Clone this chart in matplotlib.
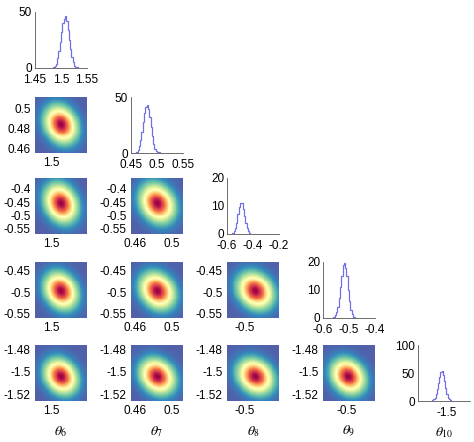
import matplotlib as mpl
mpl.use('Agg')
import matplotlib.pyplot as plt
import numpy as np

plt.rcParams['font.family'] = ['Liberation Sans', 'DejaVu Sans']
plt.rcParams['font.size'] = 8.5
plt.rcParams['mathtext.fontset'] = 'stix'

names = [r'$\theta_6$', r'$\theta_7$', r'$\theta_8$', r'$\theta_9$', r'$\theta_{10}$']

# posterior summaries
means = [1.510, 0.484, -0.455, -0.497, -1.504]
sds = [0.0088, 0.0095, 0.036, 0.021, 0.0078]
rho = -0.2

# histogram: first edge, bin width, density values
h_start = [1.485, 0.460, -0.560, -0.560, -1.530]
h_width = [0.0025, 0.0025, 0.010, 0.005, 0.0025]
h_vals = [
    [1, 2, 4, 9, 15, 23, 32, 40, 44, 46, 42, 34, 25, 17, 10, 5, 2, 1, 0.5],
    [1, 3, 6, 12, 19, 28, 36, 41, 43, 39, 32, 23, 15, 8, 4, 2, 1, 0.5],
    [0.3, 1, 2, 4, 7, 9.5, 11, 11, 9, 6.5, 4, 2, 1, 0.4],
    [0.4, 1, 2, 4, 7, 11, 15, 19, 19.5, 18, 15, 10, 6, 3, 1.5, 0.5, 0.2],
    [1, 3, 6, 12, 21, 32, 43, 51, 53, 46, 35, 23, 13, 6, 3, 1],
]
h_xlim = [(1.45, 1.55), (0.45, 0.55), (-0.6, -0.2), (-0.6, -0.4), (-1.56, -1.45)]
h_xticks = [[1.45, 1.5, 1.55], [0.45, 0.5, 0.55], [-0.6, -0.4, -0.2], [-0.6, -0.5, -0.4], [-1.5]]
h_ylim = [50, 50, 20, 20, 100]
h_yticks = [[0, 50], [0, 50], [0, 10, 20], [0, 10, 20], [0, 50, 100]]

# ranges of the 2-d panels and their ticks
p_lim = [(1.482, 1.538), (0.455, 0.512), (-0.57, -0.36), (-0.56, -0.43), (-1.526, -1.476)]
p_ticks = [[1.5], [0.46, 0.5], [-0.5], [-0.5], [-1.52, -1.5, -1.48]]
p_ytick = [[1.5], [0.46, 0.48, 0.5], [-0.55, -0.5, -0.45, -0.4], [-0.55, -0.5, -0.45], [-1.52, -1.5, -1.48]]

lefts = [35, 131, 227, 323, 418]
tops = [12, 97, 178, 262, 345]
W, H = 52, 56
FW, FH = 474, 442

fig = plt.figure(figsize=(FW / 100, FH / 100), dpi=100)

def add(col, row):
    return fig.add_axes([lefts[col] / FW, 1 - (tops[row] + H) / FH, W / FW, H / FH])

for i in range(5):
    ax = add(i, i)
    edges = h_start[i] + h_width[i] * np.arange(len(h_vals[i]) + 1)
    ax.stairs(h_vals[i], edges, color='#7070e0', lw=0.9)
    ax.set_xlim(h_xlim[i])
    ax.set_ylim(0, h_ylim[i])
    ax.set_xticks(h_xticks[i])
    ax.set_xticklabels([f'{t:g}' for t in h_xticks[i]])
    ax.set_yticks(h_yticks[i])
    for s in ['top', 'right']:
        ax.spines[s].set_visible(False)
    for s in ['left', 'bottom']:
        ax.spines[s].set_color('#555555')
        ax.spines[s].set_linewidth(0.6)
    ax.tick_params(axis='x', length=0, pad=4)
    ax.tick_params(axis='y', length=0, pad=2)
    for j in range(i):
        ax2 = add(j, i)
        x = np.linspace(*p_lim[j], 60)
        y = np.linspace(*p_lim[i], 60)
        X, Y = np.meshgrid(x, y)
        u = (X - means[j]) / (1.2 * sds[j])
        v = (Y - means[i]) / (1.2 * sds[i])
        Z = np.exp(-(u ** 2 - 2 * rho * u * v + v ** 2) / (2 * (1 - rho ** 2)))
        ax2.pcolormesh(X, Y, Z, cmap='Spectral_r', shading='auto', vmin=-0.03, vmax=1)
        ax2.set_xlim(p_lim[j])
        ax2.set_ylim(p_lim[i])
        ax2.set_xticks(p_ticks[j])
        ax2.set_xticklabels([f'{t:g}' for t in p_ticks[j]])
        ax2.set_yticks(p_ytick[i])
        ax2.set_yticklabels([f'{t:g}' for t in p_ytick[i]])
        ax2.tick_params(length=0, pad=3)
        for s in ax2.spines.values():
            s.set_visible(False)
        if i == 4:
            ax2.set_xlabel(names[j], fontsize=10, labelpad=5)
    if i == 4:
        ax.set_xlabel(names[i], fontsize=10, labelpad=5)

fig.savefig('out.png', dpi=100)
